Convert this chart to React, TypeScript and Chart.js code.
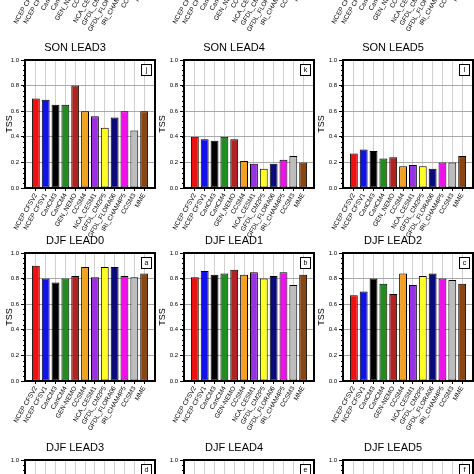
import React, { useEffect, useRef } from "react";
import { Chart, registerables } from "chart.js";

Chart.register(...registerables);

// ---------- data ----------
const modelsSON = [
  "NCEP CFSV2", "NCEP CFSV1", "CanCM3", "CanCM4", "GEN_NEMO", "CCSM4",
  "NCA_CESM1", "GFDL_CM2P5", "GFDL_FLORA06", "IRI_CHAM4P5", "CCSM3", "MME",
];
const modelsDJF = [
  "NCEP CFSV2", "NCEP CFSV1", "CanCM3", "CanCM4", "GEN-NEMO", "CCSM4",
  "NCA_CESM1", "GFDL_CM2P5", "GFDL_FLORA06", "IRI_CHAM4P5", "CCSM3", "MME",
];
const barColors = [
  "#ee1111", "#1111ee", "#000000", "#228b22", "#b22222", "#f5a01e",
  "#9a30e0", "#ffff22", "#0a0a78", "#ee11ee", "#bdbdbd", "#8b4513",
];
const yTickValues = [0, 0.2, 0.4, 0.6, 0.8, 1.0];

// panels only partly inside the crop: their bars are not visible
const sonLead0: number[] = [];
const sonLead1: number[] = [];
const sonLead2: number[] = [];
const sonLead3 = [0.70, 0.69, 0.65, 0.65, 0.80, 0.60, 0.56, 0.47, 0.55, 0.60, 0.45, 0.60];
const sonLead4 = [0.40, 0.38, 0.37, 0.40, 0.38, 0.21, 0.19, 0.15, 0.19, 0.22, 0.25, 0.20];
const sonLead5 = [0.27, 0.30, 0.29, 0.23, 0.24, 0.17, 0.18, 0.17, 0.15, 0.20, 0.20, 0.25];
const djfLead0 = [0.90, 0.80, 0.77, 0.80, 0.82, 0.89, 0.81, 0.89, 0.89, 0.82, 0.81, 0.84];
const djfLead1 = [0.81, 0.86, 0.83, 0.84, 0.87, 0.83, 0.85, 0.80, 0.82, 0.85, 0.75, 0.83];
const djfLead2 = [0.67, 0.70, 0.80, 0.76, 0.68, 0.84, 0.75, 0.82, 0.84, 0.80, 0.79, 0.76];
const djfLead3: number[] = [];
const djfLead4: number[] = [];
const djfLead5: number[] = [];

const panelTitles = [
  ["SON LEAD0", "SON LEAD1", "SON LEAD2"],
  ["SON LEAD3", "SON LEAD4", "SON LEAD5"],
  ["DJF LEAD0", "DJF LEAD1", "DJF LEAD2"],
  ["DJF LEAD3", "DJF LEAD4", "DJF LEAD5"],
];
const panelLetters = [
  ["g", "h", "i"],
  ["j", "k", "l"],
  ["a", "b", "c"],
  ["d", "e", "f"],
];
const panelValues = [
  [sonLead0, sonLead1, sonLead2],
  [sonLead3, sonLead4, sonLead5],
  [djfLead0, djfLead1, djfLead2],
  [djfLead3, djfLead4, djfLead5],
];
const rowModels = [modelsSON, modelsSON, modelsDJF, modelsDJF];

// ---------- layout ----------
const FONT = "'Liberation Sans', Arial, Helvetica, sans-serif";
const PLOT_LEFT = [25, 184, 343];
const PLOT_TOP = [-146, 60, 253, 460];
const PLOT_W = 130;
const PLOT_H = 128;
const AXIS_W = 30;
const TITLE_H = 20;
const XAXIS_H = 50;
const RIGHT_PAD = 3;
const YTITLE_PAD = [9.6, 3.6, 3.6];
const X_MIN = -1.1;
const X_MAX = 12.1;

const decorPlugin = {
  id: "panelDecor",
  afterDraw(chart: any, _args: any, opts: any) {
    const { ctx, chartArea: a } = chart;
    const y = chart.scales.y;
    ctx.save();
    // minor ticks on the left axis
    ctx.strokeStyle = "#000";
    ctx.lineWidth = 1;
    for (let i = 0; i <= 25; i++) {
      const py = Math.round(y.getPixelForValue(i * 0.04)) + 0.5;
      ctx.beginPath();
      ctx.moveTo(a.left, py);
      ctx.lineTo(a.left - 2, py);
      ctx.stroke();
    }
    // frame
    ctx.lineWidth = 2;
    ctx.strokeRect(a.left, a.top, a.right - a.left, a.bottom - a.top);
    // letter box
    const bw = 10, bh = 11;
    const bx = a.right - bw - 4, by = a.top + 4;
    ctx.fillStyle = "#fff";
    ctx.fillRect(bx, by, bw, bh);
    ctx.lineWidth = 1;
    ctx.strokeRect(bx + 0.5, by + 0.5, bw, bh);
    ctx.fillStyle = "#000";
    ctx.font = `7px ${FONT}`;
    ctx.textAlign = "center";
    ctx.textBaseline = "middle";
    ctx.fillText(opts.letter, bx + bw / 2 + 0.5, by + bh / 2 + 1);
    ctx.restore();
  },
};

type PanelProps = { row: number; col: number };

function Panel({ row, col }: PanelProps) {
  const ref = useRef<HTMLCanvasElement | null>(null);
  const left = PLOT_LEFT[col] - AXIS_W;
  const top = PLOT_TOP[row] - TITLE_H;
  const width = AXIS_W + PLOT_W + RIGHT_PAD;
  const height = TITLE_H + PLOT_H + XAXIS_H;

  useEffect(() => {
    if (!ref.current) return;
    const labels = rowModels[row];
    const values = panelValues[row][col];
    const chart = new Chart(ref.current, {
      type: "bar",
      data: {
        datasets: [
          {
            data: values.map((v, i) => ({ x: i, y: v })),
            backgroundColor: barColors,
            borderColor: "#000",
            borderWidth: 1,
            borderSkipped: false,
            barPercentage: 0.8,
            categoryPercentage: 1,
          },
        ],
      },
      options: {
        responsive: false,
        animation: false,
        devicePixelRatio: 1,
        layout: { padding: { top: 0, left: 0, right: RIGHT_PAD, bottom: 0 } },
        plugins: {
          legend: { display: false },
          tooltip: { enabled: false },
          title: {
            display: true,
            text: panelTitles[row][col],
            color: "#000",
            font: { family: FONT, size: 11, weight: "normal", lineHeight: 1.2 },
            padding: { top: 1.4, bottom: 5.4 },
          },
          panelDecor: { letter: panelLetters[row][col] },
        } as any,
        scales: {
          x: {
            type: "linear",
            min: X_MIN,
            max: X_MAX,
            offset: false,
            afterBuildTicks: (s: any) => {
              s.ticks = labels.map((_, i) => ({ value: i }));
            },
            grid: {
              offset: false,
              color: "#d0d0d0",
              lineWidth: 1,
              tickColor: "#000",
              tickLength: 3,
            },
            border: { display: true, color: "#000", width: 2 },
            ticks: {
              autoSkip: false,
              minRotation: 60,
              maxRotation: 60,
              padding: 1,
              color: "#000",
              font: { family: FONT, size: 6.5 },
              callback: (_v: any, i: number) => labels[i],
            },
            afterFit: (s: any) => {
              s.height = XAXIS_H;
              s.paddingLeft = 0;
              s.paddingRight = 0;
            },
          },
          y: {
            min: 0,
            max: 1,
            afterBuildTicks: (s: any) => {
              s.ticks = yTickValues.map((v) => ({ value: v }));
            },
            ticks: {
              color: "#000",
              padding: 2,
              font: { family: FONT, size: 6 },
              callback: (v: any) => Number(v).toFixed(1),
            },
            grid: {
              color: (c: any) =>
                c.tick && (c.tick.value === 0 || c.tick.value === 1) ? "rgba(0,0,0,0)" : "#a8a8a8",
              lineWidth: 1,
              tickColor: "#000",
              tickLength: 4,
            },
            border: { display: true, color: "#000", width: 2 },
            title: {
              display: true,
              text: "TSS",
              color: "#000",
              font: { family: FONT, size: 9 },
              padding: { top: YTITLE_PAD[col], bottom: 0 },
            },
            afterFit: (s: any) => {
              s.width = AXIS_W;
              s.paddingTop = 0;
              s.paddingBottom = 0;
            },
          },
        },
      } as any,
      plugins: [decorPlugin],
    });
    return () => chart.destroy();
  }, [row, col]);

  return (
    <canvas
      ref={ref}
      width={width}
      height={height}
      style={{ position: "absolute", left, top, width, height }}
    />
  );
}

export default function App() {
  const cells: React.ReactNode[] = [];
  for (let r = 0; r < 4; r++) {
    for (let c = 0; c < 3; c++) {
      cells.push(<Panel key={`${r}-${c}`} row={r} col={c} />);
    }
  }
  return (
    <div
      style={{
        position: "fixed",
        left: 0,
        top: 0,
        width: 474,
        height: 474,
        overflow: "hidden",
        background: "#fff",
      }}
    >
      {cells}
    </div>
  );
}
